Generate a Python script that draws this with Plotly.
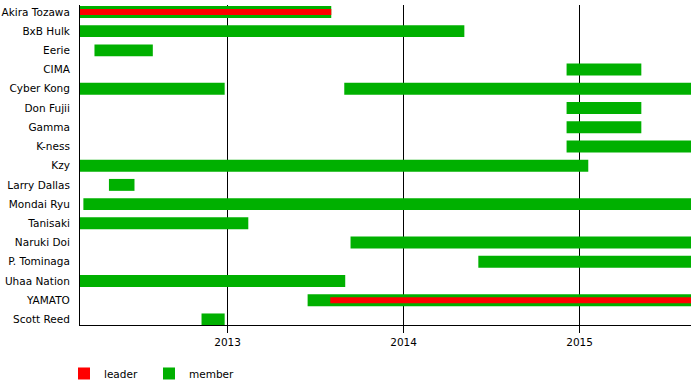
import plotly.graph_objects as go
from datetime import datetime

names = ["Akira Tozawa", "BxB Hulk", "Eerie", "CIMA", "Cyber Kong", "Don Fujii",
         "Gamma", "K-ness", "Kzy", "Larry Dallas", "Mondai Ryu", "Tanisaki",
         "Naruki Doi", "P. Tominaga", "Uhaa Nation", "YAMATO", "Scott Reed"]

member_name = ["Akira Tozawa", "BxB Hulk", "Eerie", "CIMA", "Cyber Kong", "Cyber Kong",
               "Don Fujii", "Gamma", "K-ness", "Kzy", "Larry Dallas", "Mondai Ryu",
               "Tanisaki", "Naruki Doi", "P. Tominaga", "Uhaa Nation", "YAMATO", "Scott Reed"]
member_start = ["2012-03-01", "2012-03-01", "2012-03-31", "2014-12-05", "2012-03-01", "2013-08-31",
                "2014-12-05", "2014-12-05", "2014-12-05", "2012-03-01", "2012-04-30", "2012-03-08",
                "2012-03-01", "2013-09-13", "2014-06-05", "2012-03-01", "2013-06-16", "2012-11-08"]
member_end = ["2013-08-04", "2014-05-07", "2012-07-30", "2015-05-09", "2012-12-26", "2015-08-20",
              "2015-05-09", "2015-05-09", "2015-08-20", "2015-01-19", "2012-06-22", "2015-08-20",
              "2013-02-13", "2015-08-20", "2015-08-20", "2013-09-02", "2015-08-20", "2012-12-26"]

leader_name = ["Akira Tozawa", "YAMATO"]
leader_start = ["2012-03-01", "2013-08-02"]
leader_end = ["2013-08-04", "2015-08-20"]

axis_start = "2012-03-01"
axis_end = "2015-08-20"


def dur_ms(s, e):
    return (datetime.fromisoformat(e) - datetime.fromisoformat(s)).total_seconds() * 1000


fig = go.Figure()
fig.add_trace(go.Bar(
    name="member", orientation="h",
    y=[names.index(n) for n in member_name],
    base=member_start,
    x=[dur_ms(s, e) for s, e in zip(member_start, member_end)],
    width=0.62, marker=dict(color="#00b000", line=dict(width=0)),
    legendrank=2, hoverinfo="skip",
))
fig.add_trace(go.Bar(
    name="leader", orientation="h",
    y=[names.index(n) for n in leader_name],
    base=leader_start,
    x=[dur_ms(s, e) for s, e in zip(leader_start, leader_end)],
    width=0.31, marker=dict(color="#ff0000", line=dict(width=0)),
    legendrank=1, hoverinfo="skip",
))

fig.update_layout(
    width=700, height=385,
    margin=dict(l=80, r=9, t=5, b=60, autoexpand=False),
    barmode="overlay",
    plot_bgcolor="white", paper_bgcolor="white",
    font=dict(family="DejaVu Sans", size=10.5, color="black"),
    showlegend=True,
    legend=dict(orientation="h", xref="container", yref="container",
                x=0.0914, y=0.0299, xanchor="left", yanchor="middle",
                entrywidth=40, entrywidthmode="pixels",
                font=dict(size=10.5), itemclick=False),
    xaxis=dict(type="date", range=[axis_start, axis_end], automargin=False,
               tick0="2013-01-01", dtick="M12", tickformat="%Y",
               showgrid=True, gridcolor="black", gridwidth=1,
               ticks="outside", ticklen=7, tickcolor="black", tickwidth=1,
               showline=True, linecolor="black", linewidth=1,
               zeroline=False, fixedrange=True),
    yaxis=dict(tickmode="array", tickvals=list(range(len(names))), ticktext=names,
               range=[16.29, -0.36], showgrid=False, zeroline=False, automargin=False,
               showline=True, linecolor="black", linewidth=1,
               ticks="", ticklabelstandoff=7, fixedrange=True),
)

fig.write_html("out.html", config={"displayModeBar": False},
               post_script="document.body.style.margin='0';")
